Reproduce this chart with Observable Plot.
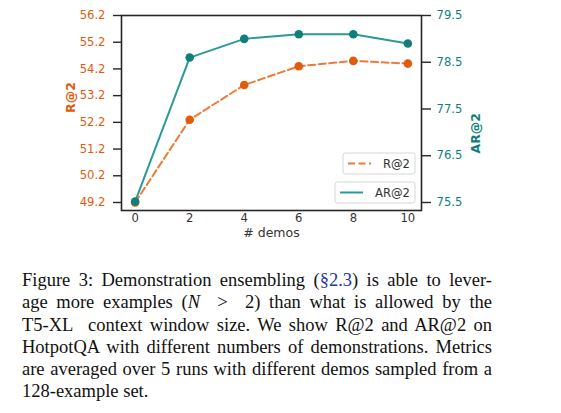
<!DOCTYPE html>
<html>
<head>
<meta charset="utf-8">
<script src="https://cdn.jsdelivr.net/npm/d3@7"></script>
<script src="https://cdn.jsdelivr.net/npm/@observablehq/plot@0.6"></script>
<style>
  body { margin: 0; background: white; }
  #wrap { position: relative; width: 561px; height: 413px; }
  #caption {
    position: absolute; left: 22px; top: 269px; width: 470px;
    font-family: "Liberation Serif", serif; font-size: 18.5px; line-height: 22.3px;
    color: #111;
  }
  #caption div { text-align: justify; text-align-last: justify; white-space: nowrap; }
  #caption div.last { text-align-last: left; }
  #caption .ref { color: #23399a; }
</style>
</head>
<body>
<div id="wrap">
  <div id="chart"></div>
  <div id="caption">
    <div>Figure 3: Demonstration ensembling (<span class="ref">§2.3</span>) is able to lever-</div>
    <div>age more examples (<i>N</i> &nbsp;&gt;&nbsp; 2) than what is allowed by the</div>
    <div>T5-XL&nbsp; context window size. We show R@2 and AR@2 on</div>
    <div>HotpotQA with different numbers of demonstrations. Metrics</div>
    <div>are averaged over 5 runs with different demos sampled from a</div>
    <div class="last">128-example set.</div>
  </div>
</div>
<script>
const demos = [0, 2, 4, 6, 8, 10]
const r2 = [49.2, 52.3, 53.6, 54.3, 54.5, 54.4]
const ar2 = [75.52, 78.6, 79.0, 79.1, 79.1, 78.9]
const leftTicks = [49.2, 50.2, 51.2, 52.2, 53.2, 54.2, 55.2, 56.2]
const rightTicks = [75.5, 76.5, 77.5, 78.5, 79.5]

const orange = "#e35a0a", orangeLine = "#ee7a3a"
const teal = "#0e7f7a", tealLine = "#2a9a98"
const dark = "#262626"
const fs = 11.6

// right axis (AR@2) mapped onto left scale (R@2)
const toLeft = d3.scaleLinear().domain([75.5, 79.5]).range([49.2, 56.2])

const rData = demos.map((d, i) => ({x: d, y: r2[i]}))
const aData = demos.map((d, i) => ({x: d, y: toLeft(ar2[i])}))

let chart = Plot.plot({
  width: 561,
  height: 245,
  marginLeft: 121,
  marginRight: 140,
  marginTop: 15,
  marginBottom: 35,
  x: {domain: [-0.5, 10.5], axis: null},
  y: {domain: [48.9, 56.2]},
  style: {fontFamily: "DejaVu Sans", fontSize: fs + "px", background: "white", overflow: "visible"},
  marks: [
    // tick marks only; labels are drawn as text marks below
    Plot.axisY(leftTicks, {anchor: "left", tickSize: 8, stroke: dark, strokeWidth: 1.4, tickFormat: () => "", label: null}),
    Plot.axisY(rightTicks.map(toLeft), {anchor: "right", tickSize: 9, stroke: dark, strokeWidth: 1.4, tickFormat: () => "", label: null}),
    Plot.text(demos, {x: d => d, frameAnchor: "bottom", dy: 11, fill: "#333", fontSize: fs}),
    Plot.text(leftTicks, {y: d => d, text: d => d.toFixed(1), frameAnchor: "left", dx: -16, textAnchor: "end", fill: orange, fontSize: fs}),
    Plot.text(rightTicks, {y: d => toLeft(d), text: d => d.toFixed(1), frameAnchor: "right", dx: 15, textAnchor: "start", fill: teal, fontSize: fs}),
    Plot.text(["# demos"], {frameAnchor: "bottom", dy: 26, fill: "#333", fontSize: 12.5}),
    Plot.text(["R@2"], {frameAnchor: "left", dx: -51, rotate: -90, fill: orange, fontWeight: "bold", fontSize: 12.5}),
    Plot.text(["AR@2"], {frameAnchor: "right", dx: 54, rotate: -90, fill: teal, fontWeight: "bold", fontSize: 12.5}),
    Plot.line(aData, {x: "x", y: "y", stroke: tealLine, strokeWidth: 2}),
    Plot.line(rData, {x: "x", y: "y", stroke: orangeLine, strokeWidth: 2, strokeDasharray: "7,3.5"}),
    Plot.dot(rData, {x: "x", y: "y", fill: orange, r: 4.3}),
    Plot.dot(aData, {x: "x", y: "y", fill: teal, r: 4.3}),
    Plot.frame({stroke: dark, strokeWidth: 1.6})
  ]
})

d3.select('#chart').append(() => chart)

// legends (two separate boxes, as in the original)
const svg = d3.select(chart)
const legends = [
  {label: "R@2", x0: 343, x1: 415, y0: 153, color: orangeLine, dash: "7,3.5"},
  {label: "AR@2", x0: 335, x1: 415, y0: 182, color: tealLine, dash: null}
]
legends.forEach(l => {
  const g = svg.append("g")
  g.append("rect").attr("x", l.x0).attr("y", l.y0).attr("width", l.x1 - l.x0).attr("height", 21)
    .attr("rx", 2.5).attr("fill", "white").attr("fill-opacity", 0.85).attr("stroke", "#d6d6d6")
  g.append("line").attr("x1", l.x0 + 5).attr("x2", l.x0 + 28).attr("y1", l.y0 + 10.5).attr("y2", l.y0 + 10.5)
    .attr("stroke", l.color).attr("stroke-width", 2).attr("stroke-dasharray", l.dash)
  g.append("text").attr("x", l.x1 - 5).attr("y", l.y0 + 10.5).attr("dy", "0.35em")
    .attr("text-anchor", "end").attr("fill", "#333").attr("font-size", fs).text(l.label)
})
</script>
</body>
</html>
